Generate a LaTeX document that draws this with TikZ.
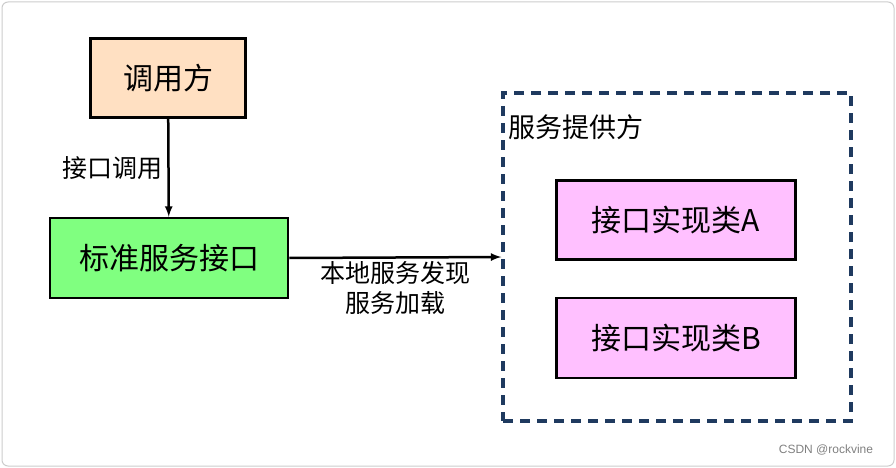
\documentclass[tikz,border=0pt]{standalone}
\usepackage{fontspec}
\setmainfont{Liberation Sans}
\newfontfamily\cjk{Noto Sans CJK SC}
\usetikzlibrary{positioning}
\definecolor{peach}{HTML}{FFE0C2}
\definecolor{lgreen}{HTML}{80FF80}
\definecolor{lpink}{HTML}{FFC0FF}
\definecolor{navy}{HTML}{1F3A5F}
\begin{document}
\begin{tikzpicture}[x=1pt,y=-1pt,
        box/.style={draw, line width=2.5pt, inner sep=0pt, font=\cjk\fontsize{30}{36}\selectfont},
        lbl/.style={font=\cjk\fontsize{25}{30}\selectfont, inner sep=1pt},
        arr/.style={draw, line width=2.5pt, -latex}
    ]
 \useasboundingbox (0,0) rectangle (896,468);
 \draw[gray!40, line width=1pt, rounded corners=6pt] (2,2) rectangle (894,466);
 % nodes
 \node[box, fill=peach, minimum width=155pt, minimum height=79pt] (caller) at (168,78) {调用方};
 \node[box, fill=lgreen, minimum width=238pt, minimum height=80pt] (api) at (169,258) {标准服务接口};
 \node[draw=navy, dashed, dash pattern=on 10pt off 7pt, line width=3.5pt, minimum width=348pt, minimum height=328pt] (prov) at (677,257) {};
 \node[lbl, font=\cjk\fontsize{27}{32}\selectfont] (provlbl) at (576,127) {服务提供方};
 \node[box, fill=lpink, minimum width=239pt, minimum height=79pt] (implA) at (676,220) {接口实现类A};
 \node[box, fill=lpink, minimum width=239pt, minimum height=80pt] (implB) at (676,338) {接口实现类B};
 % connectors
 \draw[arr] (caller) -- (api) node[midway, left, lbl, xshift=-4pt] {接口调用};
 \draw[arr] (api.east) -- (prov.west)
     node[midway, below, lbl, yshift=-2pt, align=center] {本地服务发现\\服务加载};
 \node[font=\fontsize{12}{14}\selectfont, text=gray] (mark) at (826,450) {CSDN @rockvine};
\end{tikzpicture}
\end{document}
